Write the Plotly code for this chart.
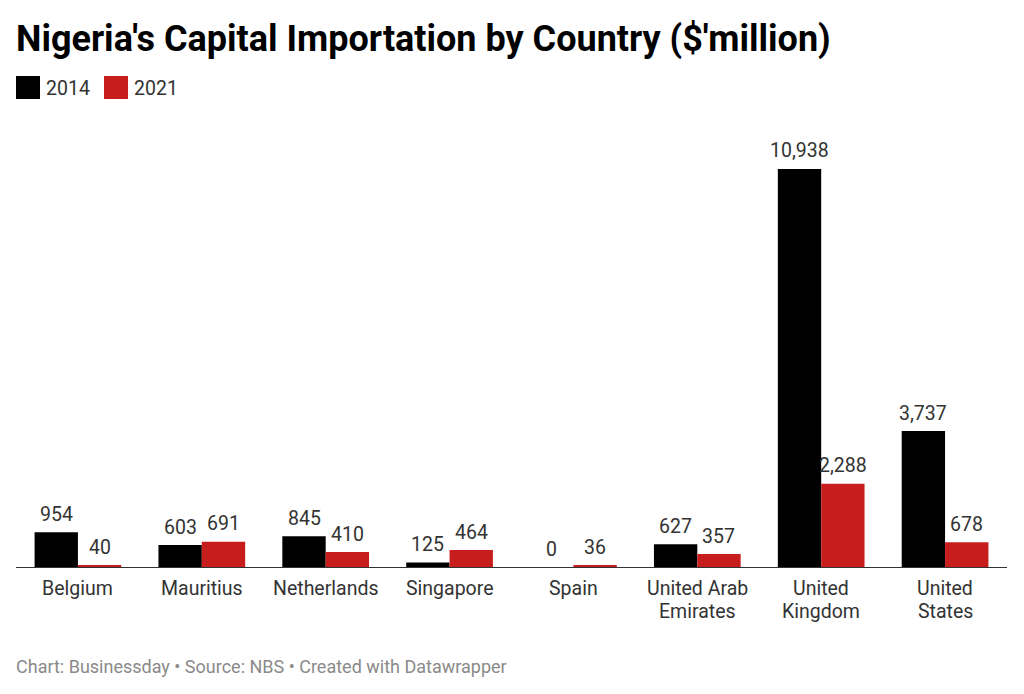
import plotly.graph_objects as go

countries = ["Belgium", "Mauritius", "Netherlands", "Singapore", "Spain",
             "United Arab<br>Emirates", "United<br>Kingdom", "United<br>States"]
v2014 = [954, 603, 845, 125, 0, 627, 10938, 3737]
v2021 = [40, 691, 410, 464, 36, 357, 2288, 678]
series_names = ["2014", "2021"]
colors = ["#000000", "#c71e1d"]

PLOT_TOP, BASE, L, R = 120, 567, 16, 1007
PH, PW = BASE - PLOT_TOP, R - L


def py(ypix):
    return 1 + (PLOT_TOP - ypix) / PH


def px(xpix):
    return (xpix - L) / PW


fig = go.Figure()
for name, vals, col in zip(series_names, [v2014, v2021], colors):
    fig.add_trace(go.Bar(
        x=countries, y=vals, name=name, marker_color=col, marker_line_width=0,
        showlegend=False, hoverinfo="x+y",
    ))

annotations = []
# value labels
half = PW / len(countries) * 0.7 / 4
for vals, shift in zip([v2014, v2021], [-half, half]):
    for c, v in zip(countries, vals):
        annotations.append(dict(
            text=f"{v:,}", x=c, y=v, xref="x", yref="y", showarrow=False,
            xanchor="center", yanchor="middle", xshift=shift, yshift=18,
            font=dict(family="Roboto", size=19.5, color="#333333")))
# category labels
for c in countries:
    for i, line in enumerate(c.split("<br>")):
        annotations.append(dict(
            text=line, x=c, y=0, xref="x", yref="y", showarrow=False,
            xanchor="center", yanchor="middle", yshift=-(21 + 23 * i),
            font=dict(family="Roboto", size=19.5, color="#333333")))

annotations += [
    dict(text="<b>Nigeria's Capital Importation by Country ($'million)</b>",
         xref="paper", yref="paper", x=px(14), y=py(39),
         xanchor="left", yanchor="middle", showarrow=False,
         font=dict(family="Roboto", size=36, color="#000000")),
    dict(text="2014", xref="paper", yref="paper", x=px(44),
         y=py(88), xanchor="left", yanchor="middle",
         showarrow=False, font=dict(family="Roboto", size=19.5, color="#333333")),
    dict(text="2021", xref="paper", yref="paper", x=px(132),
         y=py(88), xanchor="left", yanchor="middle",
         showarrow=False, font=dict(family="Roboto", size=19.5, color="#333333")),
    dict(text="Chart: Businessday • Source: NBS • Created with Datawrapper",
         xref="paper", yref="paper", x=px(14), y=py(666),
         xanchor="left", yanchor="middle", showarrow=False,
         font=dict(family="Roboto", size=18, color="#8a8a8a")),
]

fig.update_layout(
    width=1024, height=694,
    margin=dict(l=L, r=1024 - R, t=PLOT_TOP, b=694 - BASE),
    paper_bgcolor="white", plot_bgcolor="white",
    barmode="group", bargap=0.3, bargroupgap=0,
    font=dict(family="Roboto", color="#333333"),
    xaxis=dict(showgrid=False, showline=True, linecolor="#333333", linewidth=1,
               ticks="", showticklabels=False, fixedrange=True),
    yaxis=dict(range=[0, 12284], showgrid=False, showticklabels=False,
               zeroline=False, visible=False, fixedrange=True),
    annotations=annotations,
    shapes=[
        dict(type="rect", xref="paper", yref="paper",
             x0=px(16), x1=px(40), y0=py(99), y1=py(76),
             fillcolor=colors[0], line_width=0),
        dict(type="rect", xref="paper", yref="paper",
             x0=px(104), x1=px(128), y0=py(99), y1=py(76),
             fillcolor=colors[1], line_width=0),
    ],
)

fig.write_html("out.html")
